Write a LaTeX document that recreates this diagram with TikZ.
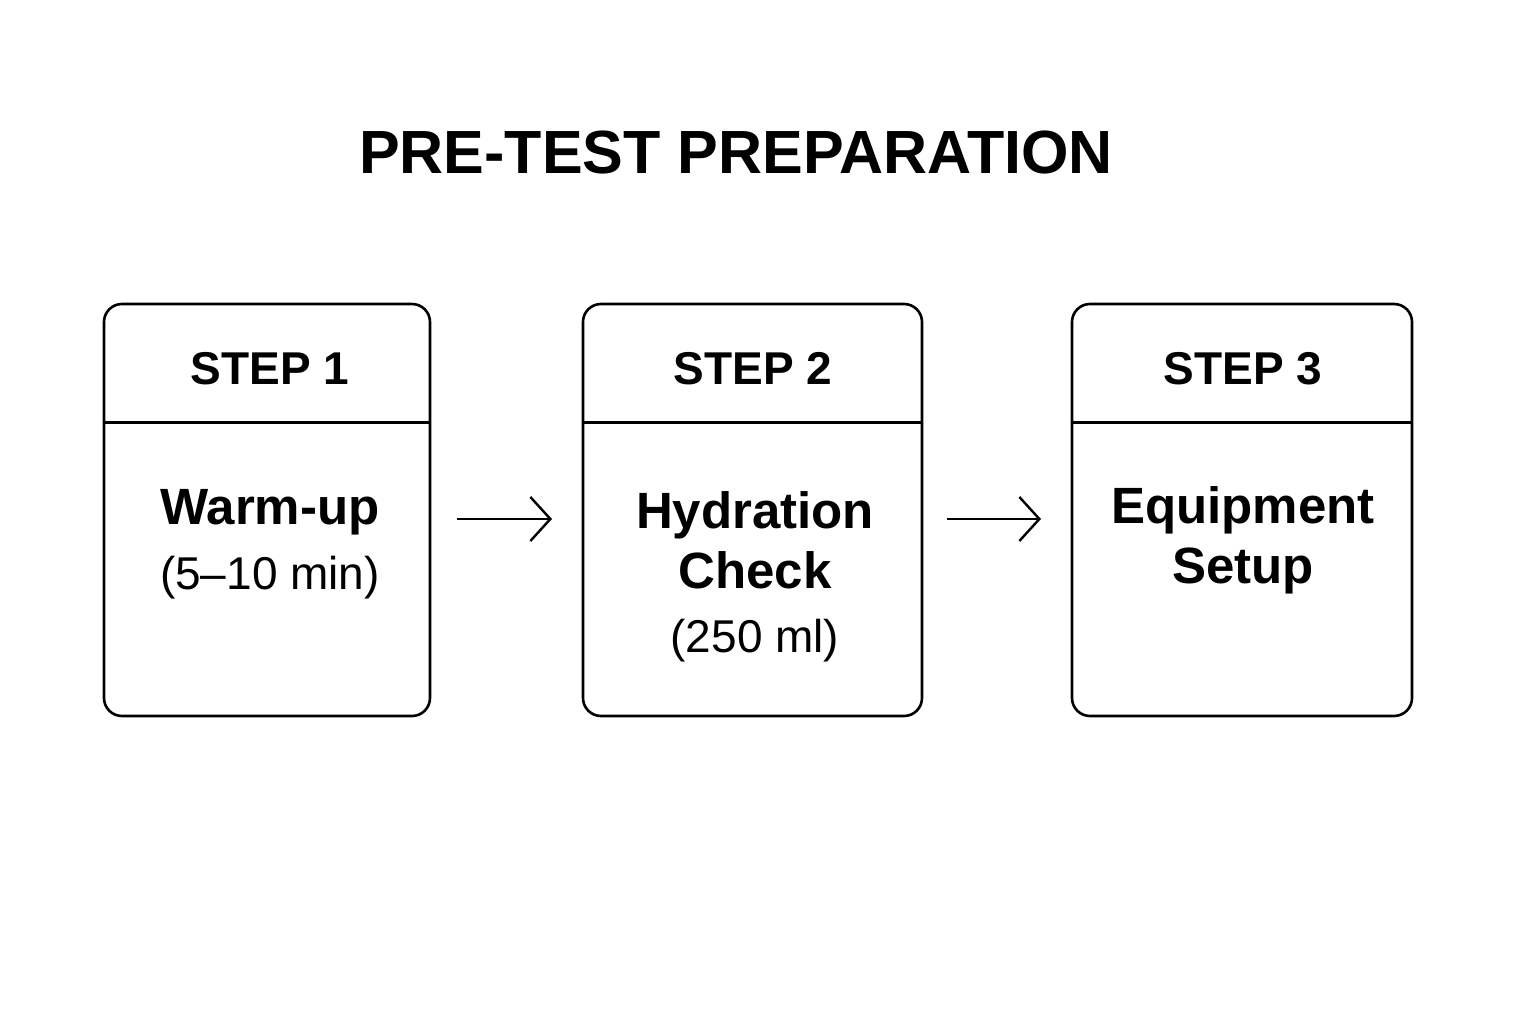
\documentclass[tikz,border=0pt]{standalone}
\usepackage{fontspec}
\setmainfont{Liberation Sans}
\usetikzlibrary{arrows.meta}
\begin{document}
\begin{tikzpicture}[x=1pt,y=-1pt,
  box/.style={draw,line width=2.6pt,rounded corners=18pt,minimum width=#1,minimum height=412pt,inner sep=0pt},
  head/.style={font=\fontsize{46}{50}\selectfont\bfseries},
  big/.style={font=\fontsize{51}{60}\selectfont\bfseries,align=center},
  small/.style={font=\fontsize{46}{48}\selectfont},
  arr/.style={line width=2.4pt,-{Straight Barb[length=20pt,width=44pt,line width=2.4pt]}}]
\useasboundingbox (0,0) rectangle (1536,1024);
\node[font=\fontsize{61}{70}\selectfont\bfseries] (title) at (736,153) {PRE-TEST PREPARATION};
\node[box=326pt] (b1) at (267,510) {};
\node[box=339pt] (b2) at (752.5,510) {};
\node[box=340pt] (b3) at (1242,510) {};
\foreach \b in {b1,b2,b3}{\draw[line width=2.6pt] ([yshift=-120pt]\b.north west) -- ([yshift=-120pt]\b.north east);}
\node[head] (s1) at (270,369) {STEP 1};
\node[head] (s2) at (753,369) {STEP 2};
\node[head] (s3) at (1243,369) {STEP 3};
\node[big] (t1) at (270,512) {Warm-up};
\node[small] (u1) at (270,578) {(5–10 min)};
\node[big] (t2) at (755,540) {Hydration\\Check};
\node[small] (u2) at (755,641) {(250 ml)};
\node[big] (t3) at (1243,540) {Equipment\\Setup};
\coordinate (a1s) at (457,519); \coordinate (a1e) at (552,519);
\coordinate (a2s) at (947,519); \coordinate (a2e) at (1041,519);
\draw[arr] (a1s) -- (a1e);
\draw[arr] (a2s) -- (a2e);
\end{tikzpicture}
\end{document}
